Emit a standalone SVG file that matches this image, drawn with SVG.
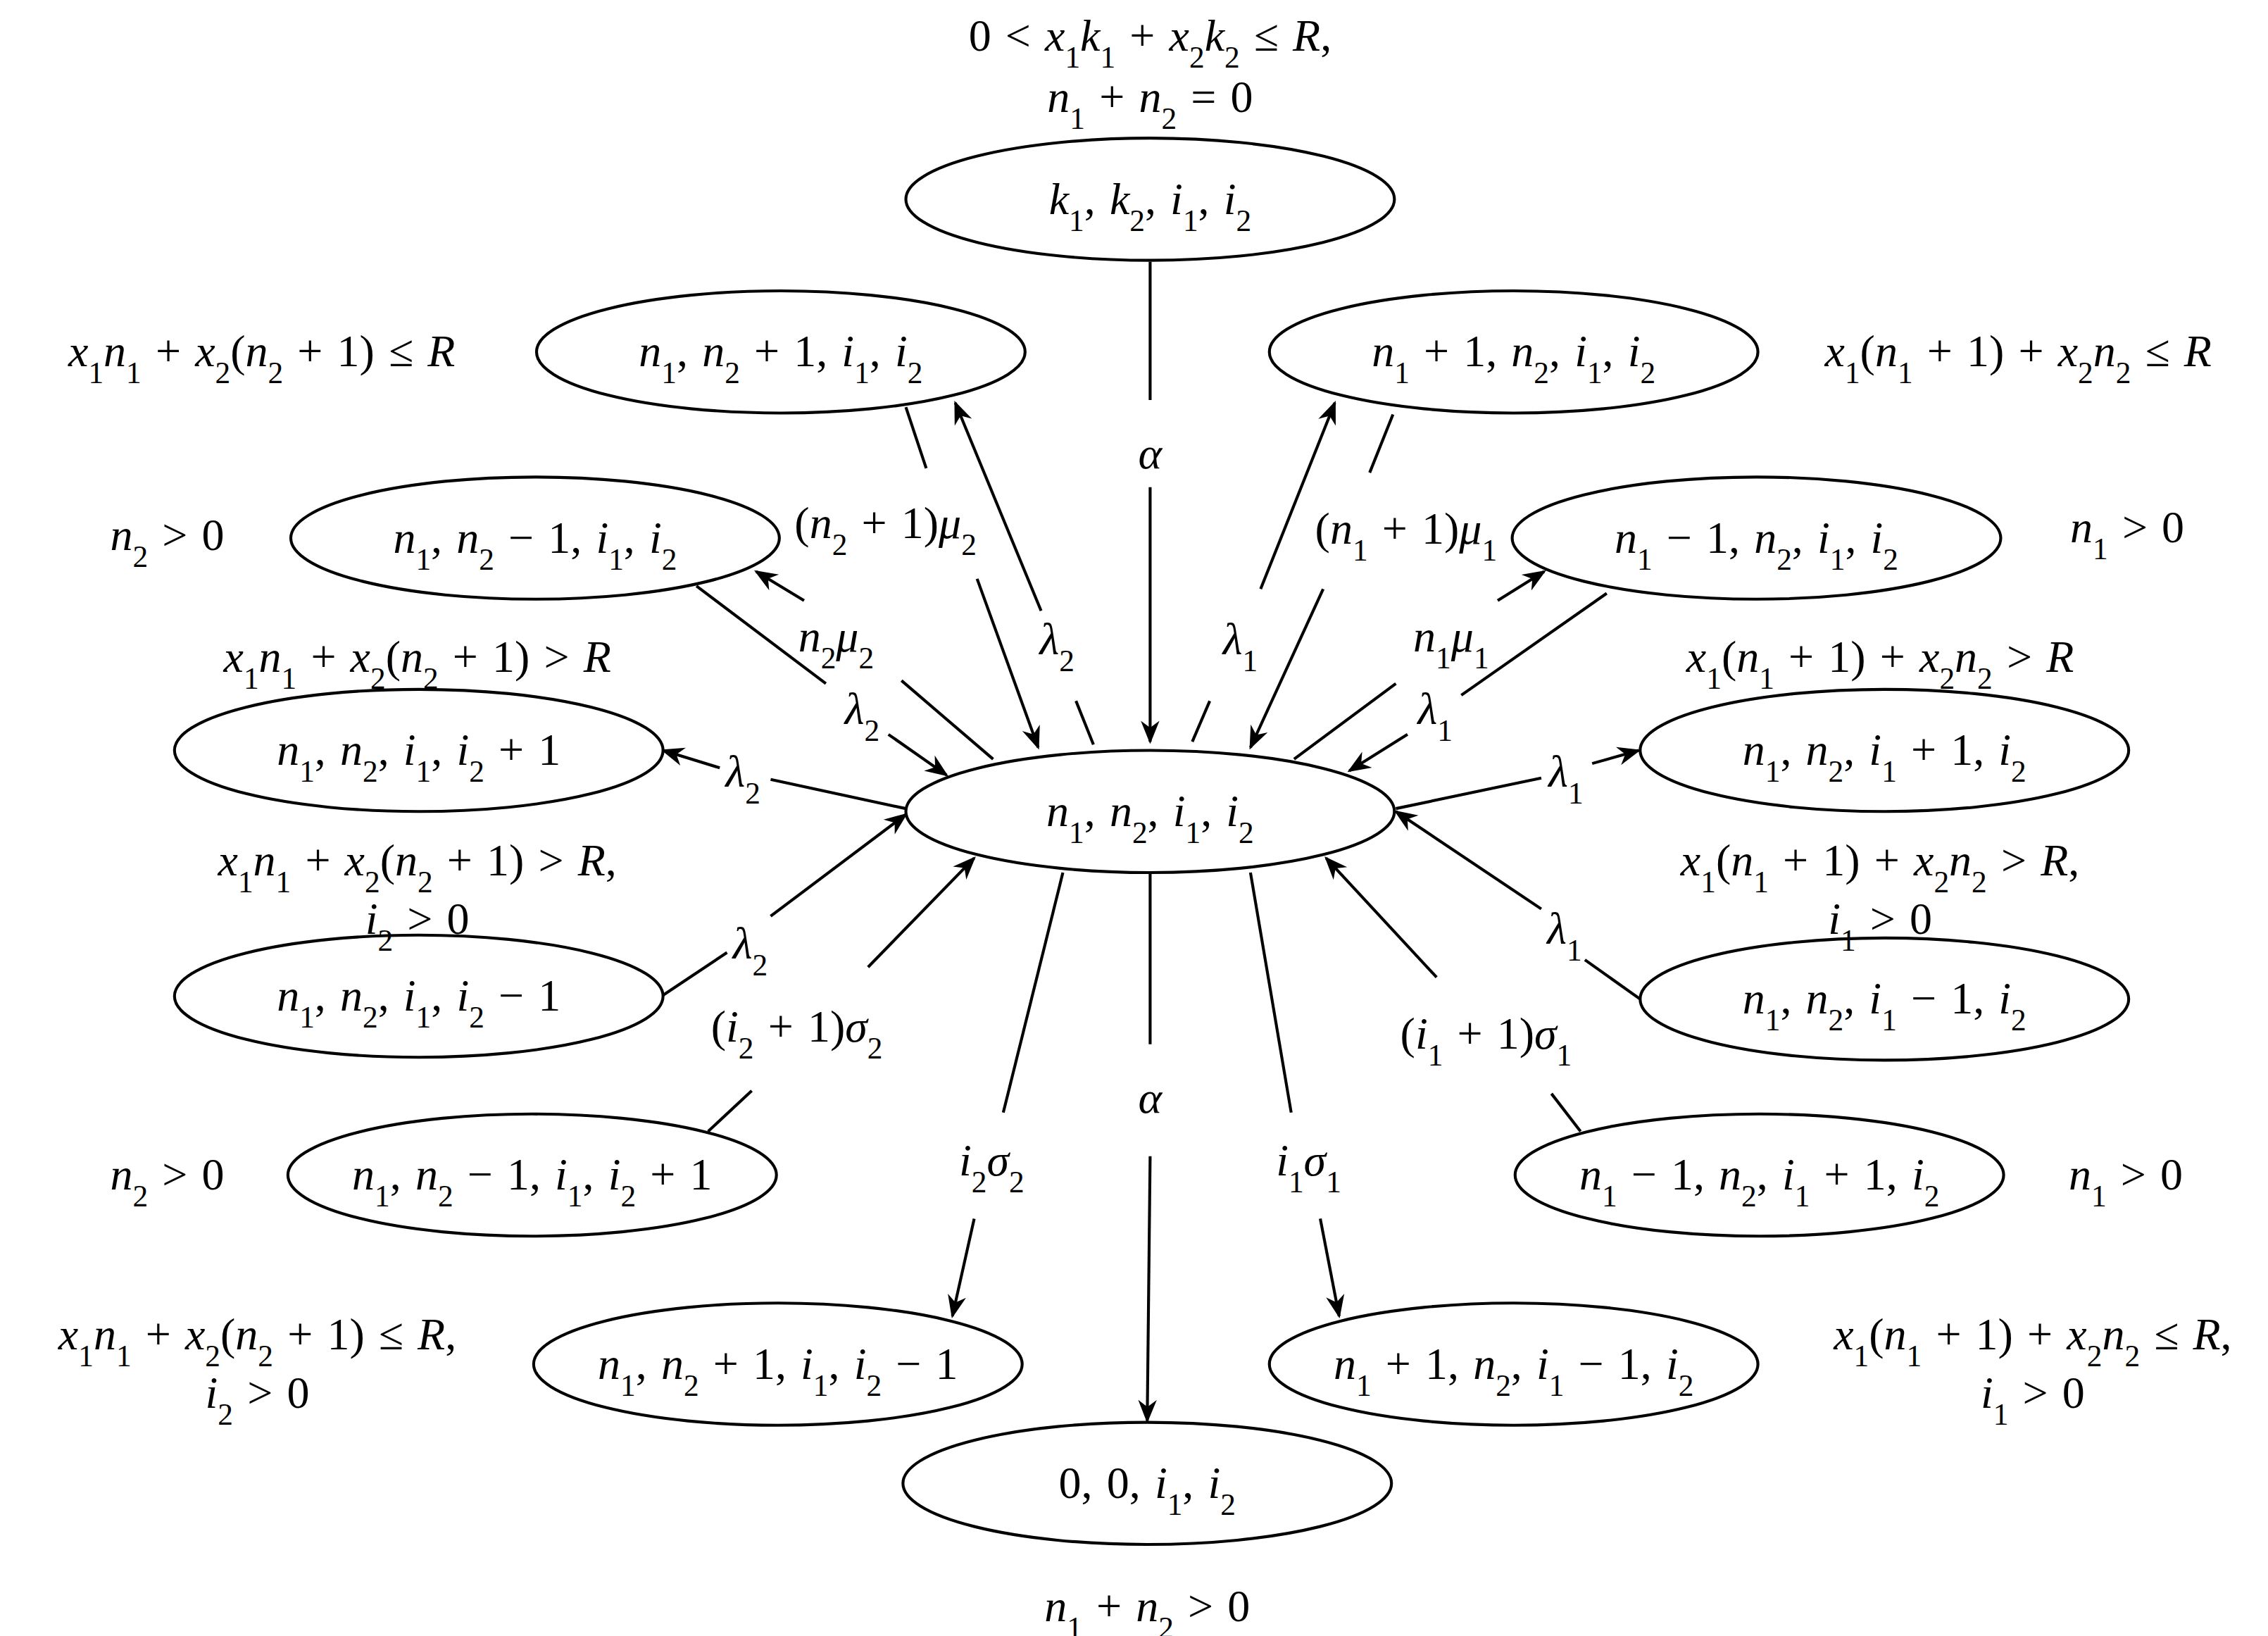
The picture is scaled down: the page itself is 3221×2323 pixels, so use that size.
<svg xmlns="http://www.w3.org/2000/svg" width="3221" height="2323" viewBox="0 0 3221 2323">
<style>
text{font-family:"Liberation Serif","DejaVu Serif",serif;font-size:31px;text-anchor:middle;fill:#000;word-spacing:2px}
.i{font-style:italic}
.b{baseline-shift:sub;font-size:21px}
ellipse{fill:#fff;stroke:#000;stroke-width:2}
line{stroke:#000;stroke-width:2}
</style>
<defs>
<marker id="a" viewBox="0 0 10 10" markerWidth="8" markerHeight="8" refX="9" refY="5" orient="auto" markerUnits="strokeWidth"><path d="M0,1 L10,5 L0,9 L3,5z" fill="#000"/></marker>
</defs>
<rect width="3221" height="2323" fill="#fff"/>
<g transform="scale(2.065)">
<g id="connectors">
<line x1="791" y1="180" x2="791" y2="275"/><line x1="791" y1="335" x2="791" y2="510" marker-end="url(#a)"/>
<line x1="752" y1="512" x2="740" y2="482"/><line x1="716" y1="420" x2="657" y2="277" marker-end="url(#a)"/>
<line x1="623" y1="280" x2="637" y2="322"/><line x1="672" y1="398" x2="714" y2="514" marker-end="url(#a)"/>
<line x1="820" y1="510" x2="832" y2="482"/><line x1="867" y1="405" x2="918" y2="277" marker-end="url(#a)"/>
<line x1="958" y1="285" x2="942" y2="325"/><line x1="910" y1="405" x2="860" y2="514" marker-end="url(#a)"/>
<line x1="683" y1="522" x2="620" y2="468"/><line x1="553" y1="413" x2="520" y2="393" marker-end="url(#a)"/>
<line x1="479" y1="403" x2="568" y2="470"/><line x1="611" y1="505" x2="651" y2="533" marker-end="url(#a)"/>
<line x1="890" y1="522" x2="960" y2="470"/><line x1="1030" y1="413" x2="1062" y2="393" marker-end="url(#a)"/>
<line x1="1105" y1="408" x2="1005" y2="478"/><line x1="968" y1="505" x2="928" y2="530" marker-end="url(#a)"/>
<line x1="623" y1="556" x2="530" y2="536"/><line x1="495" y1="528" x2="456" y2="516" marker-end="url(#a)"/>
<line x1="960" y1="556" x2="1060" y2="535"/><line x1="1095" y1="525" x2="1127" y2="516" marker-end="url(#a)"/>
<line x1="455" y1="685" x2="500" y2="655"/><line x1="530" y1="630" x2="623" y2="560" marker-end="url(#a)"/>
<line x1="1128" y1="687" x2="1090" y2="660"/><line x1="1060" y1="625" x2="960" y2="558" marker-end="url(#a)"/>
<line x1="487" y1="778" x2="517" y2="750"/><line x1="597" y1="665" x2="670" y2="590" marker-end="url(#a)"/>
<line x1="1087" y1="778" x2="1067" y2="752"/><line x1="988" y1="672" x2="912" y2="590" marker-end="url(#a)"/>
<line x1="731" y1="600" x2="690" y2="765"/><line x1="670" y1="838" x2="655" y2="905" marker-end="url(#a)"/>
<line x1="860" y1="600" x2="888" y2="765"/><line x1="908" y1="838" x2="921" y2="905" marker-end="url(#a)"/>
<line x1="791" y1="600" x2="791" y2="718"/><line x1="791" y1="795" x2="789" y2="977" marker-end="url(#a)"/>
</g>
<g id="edge-labels">
<text x="791" y="322" class="i">α</text>
<text x="727" y="450"><tspan class="i">λ</tspan><tspan class="b">2</tspan></text>
<text x="609" y="370">(<tspan class="i">n</tspan><tspan class="b">2</tspan> + 1)<tspan class="i">μ</tspan><tspan class="b">2</tspan></text>
<text x="853" y="450"><tspan class="i">λ</tspan><tspan class="b">1</tspan></text>
<text x="967" y="374">(<tspan class="i">n</tspan><tspan class="b">1</tspan> + 1)<tspan class="i">μ</tspan><tspan class="b">1</tspan></text>
<text x="575" y="448"><tspan class="i">n</tspan><tspan class="b">2</tspan><tspan class="i">μ</tspan><tspan class="b">2</tspan></text>
<text x="593" y="498"><tspan class="i">λ</tspan><tspan class="b">2</tspan></text>
<text x="998" y="448"><tspan class="i">n</tspan><tspan class="b">1</tspan><tspan class="i">μ</tspan><tspan class="b">1</tspan></text>
<text x="987" y="498"><tspan class="i">λ</tspan><tspan class="b">1</tspan></text>
<text x="511" y="541"><tspan class="i">λ</tspan><tspan class="b">2</tspan></text>
<text x="1077" y="541"><tspan class="i">λ</tspan><tspan class="b">1</tspan></text>
<text x="516" y="659"><tspan class="i">λ</tspan><tspan class="b">2</tspan></text>
<text x="1076" y="649"><tspan class="i">λ</tspan><tspan class="b">1</tspan></text>
<text x="548" y="716">(<tspan class="i">i</tspan><tspan class="b">2</tspan> + 1)<tspan class="i">σ</tspan><tspan class="b">2</tspan></text>
<text x="1022" y="721">(<tspan class="i">i</tspan><tspan class="b">1</tspan> + 1)<tspan class="i">σ</tspan><tspan class="b">1</tspan></text>
<text x="682" y="808"><tspan class="i">i</tspan><tspan class="b">2</tspan><tspan class="i">σ</tspan><tspan class="b">2</tspan></text>
<text x="900" y="808"><tspan class="i">i</tspan><tspan class="b">1</tspan><tspan class="i">σ</tspan><tspan class="b">1</tspan></text>
<text x="791" y="765" class="i">α</text>
</g>
<g id="n-top"><ellipse cx="791" cy="137" rx="168" ry="42"/><text x="791" y="147"><tspan class="i">k</tspan><tspan class="b">1</tspan>, <tspan class="i">k</tspan><tspan class="b">2</tspan>, <tspan class="i">i</tspan><tspan class="b">1</tspan>, <tspan class="i">i</tspan><tspan class="b">2</tspan></text></g>
<g id="n-n2p"><ellipse cx="537" cy="242" rx="168" ry="42"/><text x="537" y="252"><tspan class="i">n</tspan><tspan class="b">1</tspan>, <tspan class="i">n</tspan><tspan class="b">2</tspan> + 1, <tspan class="i">i</tspan><tspan class="b">1</tspan>, <tspan class="i">i</tspan><tspan class="b">2</tspan></text></g>
<g id="n-n1p"><ellipse cx="1041" cy="242" rx="168" ry="42"/><text x="1041" y="252"><tspan class="i">n</tspan><tspan class="b">1</tspan> + 1, <tspan class="i">n</tspan><tspan class="b">2</tspan>, <tspan class="i">i</tspan><tspan class="b">1</tspan>, <tspan class="i">i</tspan><tspan class="b">2</tspan></text></g>
<g id="n-n2m"><ellipse cx="368" cy="370" rx="168" ry="42"/><text x="368" y="380"><tspan class="i">n</tspan><tspan class="b">1</tspan>, <tspan class="i">n</tspan><tspan class="b">2</tspan> − 1, <tspan class="i">i</tspan><tspan class="b">1</tspan>, <tspan class="i">i</tspan><tspan class="b">2</tspan></text></g>
<g id="n-n1m"><ellipse cx="1208" cy="370" rx="168" ry="42"/><text x="1208" y="380"><tspan class="i">n</tspan><tspan class="b">1</tspan> − 1, <tspan class="i">n</tspan><tspan class="b">2</tspan>, <tspan class="i">i</tspan><tspan class="b">1</tspan>, <tspan class="i">i</tspan><tspan class="b">2</tspan></text></g>
<g id="n-i2p"><ellipse cx="288" cy="516" rx="168" ry="42"/><text x="288" y="526"><tspan class="i">n</tspan><tspan class="b">1</tspan>, <tspan class="i">n</tspan><tspan class="b">2</tspan>, <tspan class="i">i</tspan><tspan class="b">1</tspan>, <tspan class="i">i</tspan><tspan class="b">2</tspan> + 1</text></g>
<g id="n-i1p"><ellipse cx="1296" cy="516" rx="168" ry="42"/><text x="1296" y="526"><tspan class="i">n</tspan><tspan class="b">1</tspan>, <tspan class="i">n</tspan><tspan class="b">2</tspan>, <tspan class="i">i</tspan><tspan class="b">1</tspan> + 1, <tspan class="i">i</tspan><tspan class="b">2</tspan></text></g>
<g id="n-center"><ellipse cx="791" cy="558" rx="168" ry="42"/><text x="791" y="568"><tspan class="i">n</tspan><tspan class="b">1</tspan>, <tspan class="i">n</tspan><tspan class="b">2</tspan>, <tspan class="i">i</tspan><tspan class="b">1</tspan>, <tspan class="i">i</tspan><tspan class="b">2</tspan></text></g>
<g id="n-i2m"><ellipse cx="288" cy="685" rx="168" ry="42"/><text x="288" y="695"><tspan class="i">n</tspan><tspan class="b">1</tspan>, <tspan class="i">n</tspan><tspan class="b">2</tspan>, <tspan class="i">i</tspan><tspan class="b">1</tspan>, <tspan class="i">i</tspan><tspan class="b">2</tspan> − 1</text></g>
<g id="n-i1m"><ellipse cx="1296" cy="687" rx="168" ry="42"/><text x="1296" y="697"><tspan class="i">n</tspan><tspan class="b">1</tspan>, <tspan class="i">n</tspan><tspan class="b">2</tspan>, <tspan class="i">i</tspan><tspan class="b">1</tspan> − 1, <tspan class="i">i</tspan><tspan class="b">2</tspan></text></g>
<g id="n-n2m-i2p"><ellipse cx="366" cy="808" rx="168" ry="42"/><text x="366" y="818"><tspan class="i">n</tspan><tspan class="b">1</tspan>, <tspan class="i">n</tspan><tspan class="b">2</tspan> − 1, <tspan class="i">i</tspan><tspan class="b">1</tspan>, <tspan class="i">i</tspan><tspan class="b">2</tspan> + 1</text></g>
<g id="n-n1m-i1p"><ellipse cx="1210" cy="808" rx="168" ry="42"/><text x="1210" y="818"><tspan class="i">n</tspan><tspan class="b">1</tspan> − 1, <tspan class="i">n</tspan><tspan class="b">2</tspan>, <tspan class="i">i</tspan><tspan class="b">1</tspan> + 1, <tspan class="i">i</tspan><tspan class="b">2</tspan></text></g>
<g id="n-n2p-i2m"><ellipse cx="535" cy="938" rx="168" ry="42"/><text x="535" y="948"><tspan class="i">n</tspan><tspan class="b">1</tspan>, <tspan class="i">n</tspan><tspan class="b">2</tspan> + 1, <tspan class="i">i</tspan><tspan class="b">1</tspan>, <tspan class="i">i</tspan><tspan class="b">2</tspan> − 1</text></g>
<g id="n-n1p-i1m"><ellipse cx="1041" cy="938" rx="168" ry="42"/><text x="1041" y="948"><tspan class="i">n</tspan><tspan class="b">1</tspan> + 1, <tspan class="i">n</tspan><tspan class="b">2</tspan>, <tspan class="i">i</tspan><tspan class="b">1</tspan> − 1, <tspan class="i">i</tspan><tspan class="b">2</tspan></text></g>
<g id="n-zero"><ellipse cx="789" cy="1020" rx="168" ry="42"/><text x="789" y="1030">0, 0, <tspan class="i">i</tspan><tspan class="b">1</tspan>, <tspan class="i">i</tspan><tspan class="b">2</tspan></text></g>
<g id="conditions">
<text x="791" y="35">0 &lt; <tspan class="i">x</tspan><tspan class="b">1</tspan><tspan class="i">k</tspan><tspan class="b">1</tspan> + <tspan class="i">x</tspan><tspan class="b">2</tspan><tspan class="i">k</tspan><tspan class="b">2</tspan> ≤ <tspan class="i">R</tspan>,</text>
<text x="791" y="77"><tspan class="i">n</tspan><tspan class="b">1</tspan> + <tspan class="i">n</tspan><tspan class="b">2</tspan> = 0</text>
<text x="180" y="252"><tspan class="i">x</tspan><tspan class="b">1</tspan><tspan class="i">n</tspan><tspan class="b">1</tspan> + <tspan class="i">x</tspan><tspan class="b">2</tspan>(<tspan class="i">n</tspan><tspan class="b">2</tspan> + 1) ≤ <tspan class="i">R</tspan></text>
<text x="1388" y="252"><tspan class="i">x</tspan><tspan class="b">1</tspan>(<tspan class="i">n</tspan><tspan class="b">1</tspan> + 1) + <tspan class="i">x</tspan><tspan class="b">2</tspan><tspan class="i">n</tspan><tspan class="b">2</tspan> ≤ <tspan class="i">R</tspan></text>
<text x="115" y="378"><tspan class="i">n</tspan><tspan class="b">2</tspan> &gt; 0</text>
<text x="1463" y="373"><tspan class="i">n</tspan><tspan class="b">1</tspan> &gt; 0</text>
<text x="287" y="462"><tspan class="i">x</tspan><tspan class="b">1</tspan><tspan class="i">n</tspan><tspan class="b">1</tspan> + <tspan class="i">x</tspan><tspan class="b">2</tspan>(<tspan class="i">n</tspan><tspan class="b">2</tspan> + 1) &gt; <tspan class="i">R</tspan></text>
<text x="1293" y="462"><tspan class="i">x</tspan><tspan class="b">1</tspan>(<tspan class="i">n</tspan><tspan class="b">1</tspan> + 1) + <tspan class="i">x</tspan><tspan class="b">2</tspan><tspan class="i">n</tspan><tspan class="b">2</tspan> &gt; <tspan class="i">R</tspan></text>
<text x="287" y="602"><tspan class="i">x</tspan><tspan class="b">1</tspan><tspan class="i">n</tspan><tspan class="b">1</tspan> + <tspan class="i">x</tspan><tspan class="b">2</tspan>(<tspan class="i">n</tspan><tspan class="b">2</tspan> + 1) &gt; <tspan class="i">R</tspan>,</text>
<text x="287" y="642"><tspan class="i">i</tspan><tspan class="b">2</tspan> &gt; 0</text>
<text x="1293" y="602"><tspan class="i">x</tspan><tspan class="b">1</tspan>(<tspan class="i">n</tspan><tspan class="b">1</tspan> + 1) + <tspan class="i">x</tspan><tspan class="b">2</tspan><tspan class="i">n</tspan><tspan class="b">2</tspan> &gt; <tspan class="i">R</tspan>,</text>
<text x="1293" y="642"><tspan class="i">i</tspan><tspan class="b">1</tspan> &gt; 0</text>
<text x="115" y="818"><tspan class="i">n</tspan><tspan class="b">2</tspan> &gt; 0</text>
<text x="1462" y="818"><tspan class="i">n</tspan><tspan class="b">1</tspan> &gt; 0</text>
<text x="177" y="928"><tspan class="i">x</tspan><tspan class="b">1</tspan><tspan class="i">n</tspan><tspan class="b">1</tspan> + <tspan class="i">x</tspan><tspan class="b">2</tspan>(<tspan class="i">n</tspan><tspan class="b">2</tspan> + 1) ≤ <tspan class="i">R</tspan>,</text>
<text x="177" y="968"><tspan class="i">i</tspan><tspan class="b">2</tspan> &gt; 0</text>
<text x="1398" y="928"><tspan class="i">x</tspan><tspan class="b">1</tspan>(<tspan class="i">n</tspan><tspan class="b">1</tspan> + 1) + <tspan class="i">x</tspan><tspan class="b">2</tspan><tspan class="i">n</tspan><tspan class="b">2</tspan> ≤ <tspan class="i">R</tspan>,</text>
<text x="1398" y="968"><tspan class="i">i</tspan><tspan class="b">1</tspan> &gt; 0</text>
<text x="789" y="1115"><tspan class="i">n</tspan><tspan class="b">1</tspan> + <tspan class="i">n</tspan><tspan class="b">2</tspan> &gt; 0</text>
</g>
</g>
</svg>
